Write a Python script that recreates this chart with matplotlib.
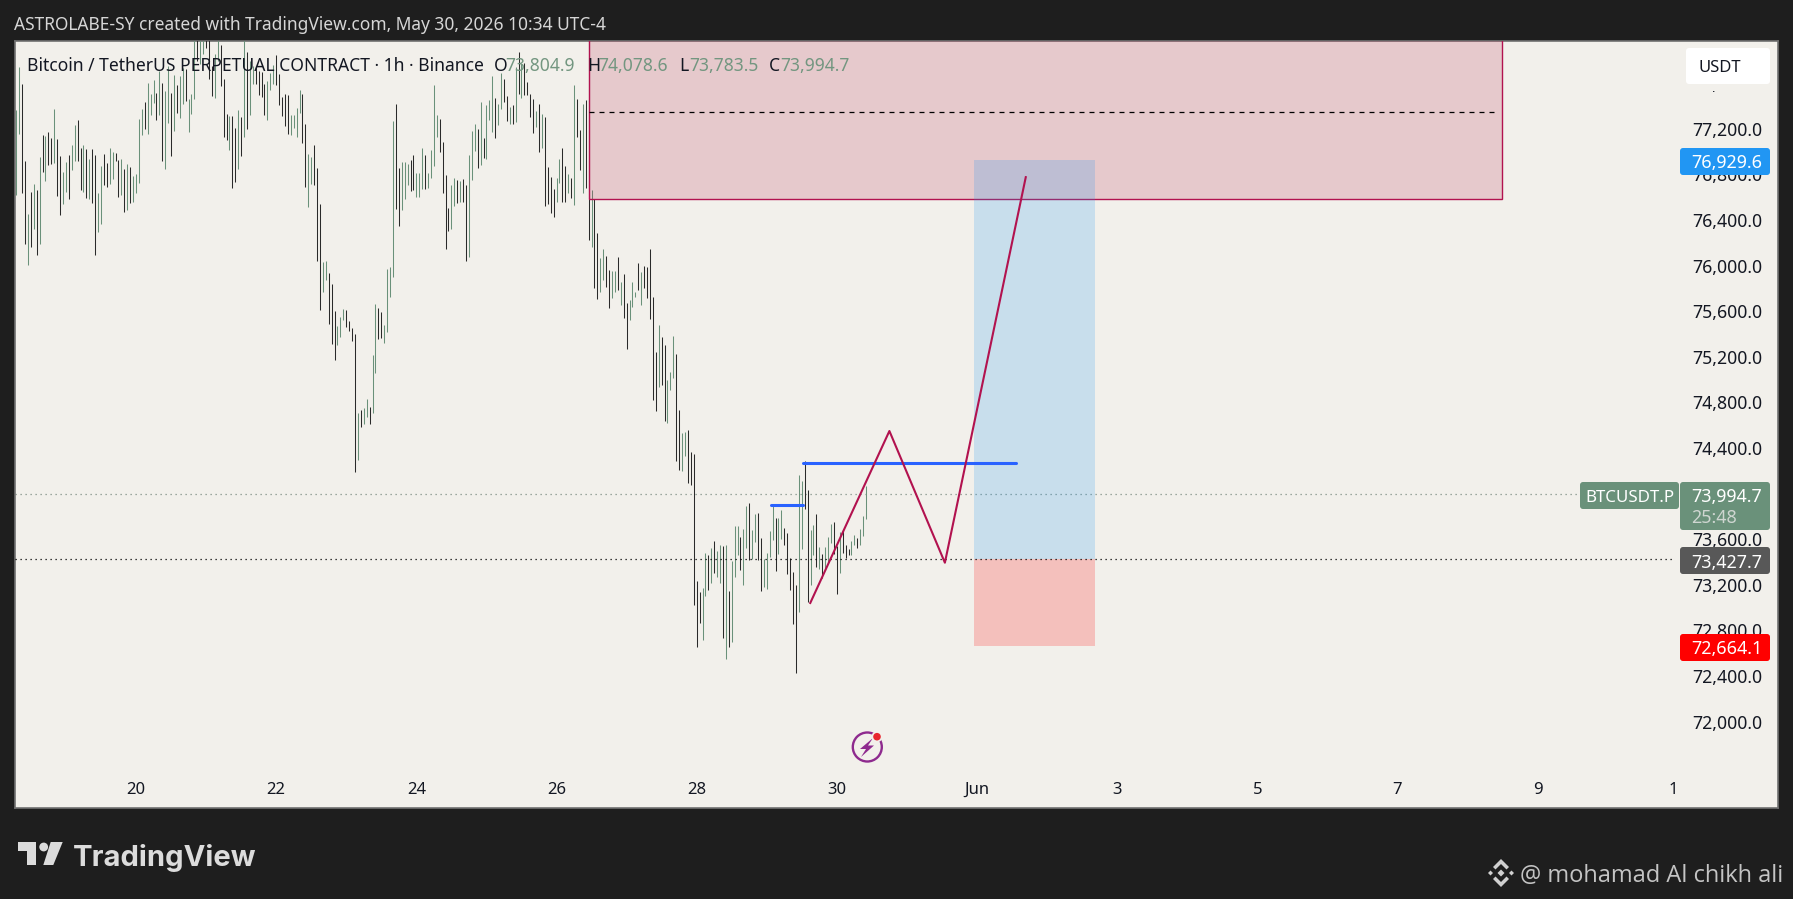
import matplotlib
matplotlib.use('Agg')
import matplotlib.pyplot as plt
from matplotlib.patches import Rectangle, FancyBboxPatch, Polygon, Circle
import numpy as np

plt.rcParams['font.family'] = ['Noto Sans', 'DejaVu Sans']

# hourly bars, last one is May 30 10:00
highs = [
    77363, 77738, 77591, 76916, 76449, 76641, 76715, 76662, 76951, 77144,
    77135, 77171, 77121, 77372, 77109, 76960, 76817, 76907, 76969, 77057,
    77232, 77276, 77033, 77054, 77021, 76931, 77021, 76969, 76636, 76872,
    76975, 76899, 77030, 76992, 76986, 76925, 76934, 76847, 76891, 76864,
    76785, 76803, 77285, 77373, 77437, 77601, 77504, 77627, 77513, 77706,
    77601, 77531, 77750, 77513, 77671, 77583, 77662, 77732, 77724, 77458,
    77504, 78000, 78000, 78000, 78000, 78000, 78000, 77750, 77852, 78000,
    77934, 77636, 77329, 77311, 77311, 77206, 77364, 77303, 78000, 77873,
    77794, 77750, 77750, 77706, 77697, 77592, 77618, 77689, 77759, 77846,
    77680, 77478, 77504, 77496, 77320, 77320, 77382, 77540, 77504, 77241,
    76978, 76954, 77057, 76855, 76540, 76031, 76040, 75935, 75838, 75602,
    75470, 75549, 75619, 75610, 75514, 75452, 75400, 74707, 74733, 74751,
    74830, 74760, 75216, 75663, 75628, 75593, 75479, 75970, 75987, 77267,
    77416, 76855, 76907, 76907, 76890, 76925, 76969, 76808, 76814, 77030,
    76969, 76808, 77013, 77583, 77320, 77282, 77083, 76793, 76504, 76706,
    76764, 76750, 76744, 76758, 76706, 76969, 77179, 77238, 77197, 77431,
    77115, 77407, 77451, 77662, 77466, 77416, 77685, 77632, 77486, 77387,
    77407, 77743, 77875, 77773, 77773, 77612, 77501, 77457, 77355, 77416,
    77325, 77299, 76864, 76776, 76671, 76764, 76934, 77030, 76872, 76802,
    76767, 77583, 77460, 77188, 77416, 77451, 78000, 76662, 76580, 76282,
    76066, 76145, 76083, 75960, 75952, 75952, 76074, 75858, 75925, 75668,
    75697, 75852, 75770, 76022, 75946, 75995, 75984, 76145, 75721, 75242,
    75479, 75373, 75303, 74996, 75067, 75382, 75224, 74733, 74532, 74540,
    74558, 74365, 74347, 73234, 73137, 73172, 73479, 73462, 73523, 73584,
    73497, 73549, 73541, 73549, 73146, 73409, 73716, 73716, 73620, 73690,
    73891, 73918, 73681, 73821, 73830, 73611, 73427, 73479, 73672, 73900,
    73786, 73786, 73856, 73699, 73655, 73436, 73313, 73199, 74163, 74111,
    74286, 74032, 73681, 73725, 73821, 73532, 73471, 73532, 73620, 73734,
    73751, 73541, 73664, 73681, 73550, 73514, 73585, 73637, 73611, 73690,
    73804, 74067,
]
lows = [
    76618, 77153, 76639, 76188, 76007, 76165, 76320, 76095, 76188, 76817,
    76744, 76884, 76890, 76902, 76609, 76443, 76539, 76641, 76583, 76837,
    76916, 76919, 76662, 76641, 76595, 76583, 76545, 76095, 76294, 76364,
    76706, 76691, 76715, 76758, 76919, 76603, 76619, 76473, 76487, 76549,
    76560, 76639, 76727, 77145, 77197, 77157, 77320, 77428, 77276, 77320,
    76917, 76847, 77250, 76961, 77180, 77335, 77294, 77417, 77443, 77171,
    77329, 77461, 77794, 77765, 77852, 77908, 77636, 77487, 77469, 77794,
    77575, 77127, 77101, 77013, 76680, 76733, 76847, 76961, 77127, 77197,
    77320, 77592, 77592, 77496, 77478, 77320, 77276, 77540, 77592, 77583,
    77408, 77311, 77224, 77154, 77145, 77206, 77127, 77338, 77075, 76691,
    76516, 76715, 76706, 76042, 75610, 75768, 75873, 75488, 75312, 75172,
    75303, 75374, 75523, 75461, 75426, 75338, 74190, 74295, 74584, 74611,
    74672, 74611, 74707, 75058, 75356, 75365, 75321, 75417, 75724, 75900,
    76495, 76349, 76487, 76583, 76706, 76653, 76662, 76603, 76603, 76671,
    76671, 76677, 76764, 76872, 77130, 76998, 76636, 76145, 76302, 76320,
    76522, 76545, 76560, 76554, 76042, 76074, 76750, 77007, 76855, 76881,
    76940, 76934, 77276, 77171, 77121, 77232, 77372, 77436, 77267, 77238,
    77238, 77261, 77504, 77466, 77495, 77495, 77305, 77165, 77217, 76998,
    77027, 76522, 76539, 76463, 76428, 76560, 76726, 76554, 76554, 76639,
    76589, 76530, 77130, 76837, 76633, 76677, 76223, 76165, 75800, 75703,
    75770, 75873, 75814, 75630, 75712, 75770, 75785, 75653, 75542, 75271,
    75522, 75639, 75727, 75785, 75653, 75800, 75718, 75534, 74820, 74724,
    74935, 74952, 74637, 74619, 74909, 75014, 74286, 74207, 74198, 74330,
    74093, 74076, 73023, 72655, 72865, 72716, 73102, 73155, 73216, 73304,
    73269, 73216, 72734, 72550, 72655, 72699, 73269, 73462, 73330, 73199,
    73523, 73418, 73427, 73576, 73418, 73146, 73181, 73164, 73444, 73593,
    73322, 73471, 73602, 73550, 73295, 73155, 72857, 72427, 72962, 73514,
    73865, 73050, 73199, 73462, 73357, 73339, 73260, 73330, 73400, 73567,
    73471, 73120, 73304, 73479, 73436, 73462, 73462, 73550, 73523, 73550,
    73628, 73778,
]
# G = close up, K = close down
bar_kinds = (
    'GGKKGKGKGK' 'GKKGKKGGKG' 'GKKGKGKKGG' 'KKGGKKGKGK' 'GGGGKGGGKG'
    'KGGKGKGGKG' 'GGKGGKKKGG' 'KKKGKKGKGK' 'GGKKKKGGGK' 'KKKKGGGGKK'
    'GGKKKGGKKK' 'GGGKKKKGKG' 'GKGGKKGGGG' 'KKGGGKKGGG' 'KGGGGKKKKG'
    'GKGKKGGGKG' 'KGGGKGGKKG' 'KGKGKKKKGK' 'GKKKKGGKKG' 'KGKKGKKGKK'
    'GGKKGGKGKK' 'GGGKGKKKKK' 'GKKGGGKKGG' 'KKKKKGGKGK' 'GGKGKGGGKG'
    'GKGGKKGGGG' 'KGGKKKKKGG' 'KKGGKGKGGG' 'KKGKKKGGKG' 'GG'
)

tick_hours = [0, 48, 96, 144, 192, 240, 288, 336, 384, 432, 480, 526.3]
tick_names = ['20', '22', '24', '26', '28', '30', 'Jun', '3', '5', '7', '9', '1']
price_ticks = [72000, 72400, 72800, 73200, 73600, 74000, 74400, 74800, 75200,
               75600, 76000, 76400, 76800, 77200, 77600]

last_price = 73994.7
entry = 73427.7
target = 76929.6
stop = 72664.1
zone_low, zone_mid, zone_high = 76583, 77344, 78300
zone_hours = (155.1, 467.9)
trade_hours = (286.8, 328.3)
level_small = (217.5, 228.3, 73897)
level_big = (228.4, 301.2, 74266)
path_hours = [230.9, 258.0, 277.0, 304.7]
path_prices = [73041, 74549, 73394, 76775]

DARK = '#1e1e1e'
PAPER = '#f2f0eb'
GREEN = '#6a917a'
BLACK = '#2a2a2a'
CRIMSON = '#b2124f'
W, H = 1793, 899

fig = plt.figure(figsize=(W / 100, H / 100), dpi=100, facecolor=DARK)
ax = fig.add_axes([15 / W, (H - 808) / H, (1778 - 15) / W, (808 - 41) / H], facecolor=PAPER)
ax.set_xlim(-41.44, 562.3)
ax.set_ylim(71243, 77969)

hours = np.arange(len(highs)) - 41
colors = [GREEN if k == 'G' else BLACK for k in bar_kinds]
ax.vlines(hours, lows, highs, colors=colors, linewidth=0.75, zorder=3)

# sell zone
ax.add_patch(Rectangle((zone_hours[0], zone_low), zone_hours[1] - zone_hours[0], zone_high - zone_low,
                       facecolor=(178 / 255, 24 / 255, 67 / 255, 0.18), edgecolor=CRIMSON, linewidth=1.0, zorder=4))
ax.plot([zone_hours[0], zone_hours[1] - 1], [zone_mid, zone_mid], color='black', linewidth=0.9,
        dashes=(4, 4), zorder=5)

# long position box
ax.add_patch(Rectangle((trade_hours[0], entry), trade_hours[1] - trade_hours[0], target - entry,
                       facecolor=(33 / 255, 150 / 255, 243 / 255, 0.2), edgecolor='none', zorder=4))
ax.add_patch(Rectangle((trade_hours[0], stop), trade_hours[1] - trade_hours[0], entry - stop,
                       facecolor=(1, 0, 0, 0.2), edgecolor='none', zorder=4))

ax.plot([-41.44, 495], [last_price, last_price], color='#7f8f85', linewidth=0.9, dashes=(1, 3), zorder=2)
ax.plot([-41.44, 527], [entry, entry], color='black', linewidth=0.9, dashes=(1, 3), zorder=5)

for start, end, price in (level_small, level_big):
    ax.plot([start, end], [price, price], color='#2962ff', linewidth=2.2, solid_capstyle='round', zorder=5)
ax.plot(path_hours, path_prices, color=CRIMSON, linewidth=1.5, zorder=6)

ax.set_xticks(tick_hours, tick_names)
ax.set_yticks(price_ticks, [f'{p:,.1f}' for p in price_ticks])
ax.yaxis.tick_right()
ax.tick_params(axis='x', length=0, pad=-18.5, labelsize=12, labelcolor='#131722')
ax.tick_params(axis='y', length=0, pad=-62, labelsize=12.7, labelcolor='#131722')
for spine in ax.spines.values():
    spine.set_color('#707070')
    spine.set_linewidth(1.2)

# everything around the plot goes on a pixel overlay
top = fig.add_axes([0, 0, 1, 1], zorder=10)
top.set_xlim(0, W)
top.set_ylim(H, 0)
top.axis('off')


def tag(x0, x1, y0, y1, color):
    top.add_patch(FancyBboxPatch((x0 + 2, y0 + 2), x1 - x0 - 4, y1 - y0 - 4,
                                 boxstyle='round,pad=2,rounding_size=3', facecolor=color, edgecolor='none'))


def price_tag(value, y0, y1, color):
    tag(1680, 1770, y0, y1, color)
    top.text(1691.5, (y0 + y1) / 2, f'{value:,.1f}', color='white', fontsize=12.9,
             va='center_baseline', ha='left')


# the currency button hides most of the top price label
top.add_patch(Rectangle((1686, 60), 84, 30.5, facecolor=PAPER, edgecolor='none'))
tag(1686, 1770, 48, 84, 'white')
top.text(1699, 66, 'USDT', color='#131722', fontsize=12, va='center_baseline')
price_tag(target, 148, 175, '#2196f3')
tag(1580, 1679, 482, 509, '#6a917a')
top.text(1585, 495.5, 'BTCUSDT.P', color='white', fontsize=12.2, va='center_baseline')
tag(1680, 1770, 482, 530, '#6a917a')
top.text(1691.5, 495, f'{last_price:,.1f}', color='white', fontsize=12.9, va='center_baseline')
top.text(1691.5, 516, '25:48', color='#cfd6d1', fontsize=12.9, va='center_baseline')
price_tag(entry, 547, 574, '#585858')
price_tag(stop, 634, 661, '#ff0000')

# header and legend
top.text(14, 23, 'ASTROLABE-SY created with TradingView.com, May 30, 2026 10:34 UTC-4',
         color='#d6d6d6', fontsize=12.5, va='center_baseline')
top.text(27, 64, 'Bitcoin / TetherUS PERPETUAL CONTRACT · 1h · Binance', color='#131722',
         fontsize=12.6, va='center_baseline')
for letter, x_letter, value, x_value in (('O', 494, '73,804.9', 505), ('H', 587, '74,078.6', 598),
                                         ('L', 679, '73,783.5', 689), ('C', 769, '73,994.7', 780)):
    top.text(x_letter, 64, letter, color='#131722', fontsize=12.6, va='center_baseline')
    top.text(x_value, 64, value, color='#739680', fontsize=12.6, va='center_baseline')

# TradingView logo
logo = '#dcdcdc'
top.add_patch(Polygon([(18, 842), (36, 842), (36, 865), (27, 865), (27, 851), (18, 851)], facecolor=logo))
top.add_patch(Circle((43.7, 847), 4.4, facecolor=logo))
top.add_patch(Polygon([(50.7, 842), (62.7, 842), (53.3, 865), (43.3, 865)], facecolor=logo))
top.text(73, 855, 'TradingView', color=logo, fontsize=21, fontweight='bold', family='Inter',
         va='center_baseline')

# Binance mark and author
bx, by = 1501, 873
top.add_patch(Polygon([(bx, by - 3.5), (bx + 3.5, by), (bx, by + 3.5), (bx - 3.5, by)], facecolor='#d0d0d0'))
top.add_patch(Polygon([(bx - 13, by), (bx - 10.5, by - 2.5), (bx - 8, by), (bx - 10.5, by + 2.5)], facecolor='#d0d0d0'))
top.add_patch(Polygon([(bx + 13, by), (bx + 10.5, by - 2.5), (bx + 8, by), (bx + 10.5, by + 2.5)], facecolor='#d0d0d0'))
for sign in (-1, 1):
    top.add_patch(Polygon([(bx, by + sign * 14), (bx + 8, by + sign * 6), (bx + 5.5, by + sign * 3.5),
                           (bx, by + sign * 9), (bx - 5.5, by + sign * 3.5), (bx - 8, by + sign * 6)],
                          facecolor='#d0d0d0'))
top.text(1520, 873, '@ mohamad Al chikh ali', color='#c4c4c4', fontsize=17.05, family='Open Sans',
         va='center_baseline')

# bolt icon
top.add_patch(Circle((867.3, 747), 14.5, facecolor=PAPER, edgecolor='#8e2a8e', linewidth=1.7))
top.add_patch(Polygon([(873, 738), (860, 749), (866, 749), (861, 757), (874, 745.5), (868, 745.5)],
                      facecolor='#8e2a8e'))
top.add_patch(Circle((877, 736.7), 5.5, facecolor=PAPER, edgecolor='none'))
top.add_patch(Circle((877, 736.7), 3.8, facecolor='#e8262e', edgecolor='none'))

fig.savefig('out.png', dpi=100, facecolor=DARK)
